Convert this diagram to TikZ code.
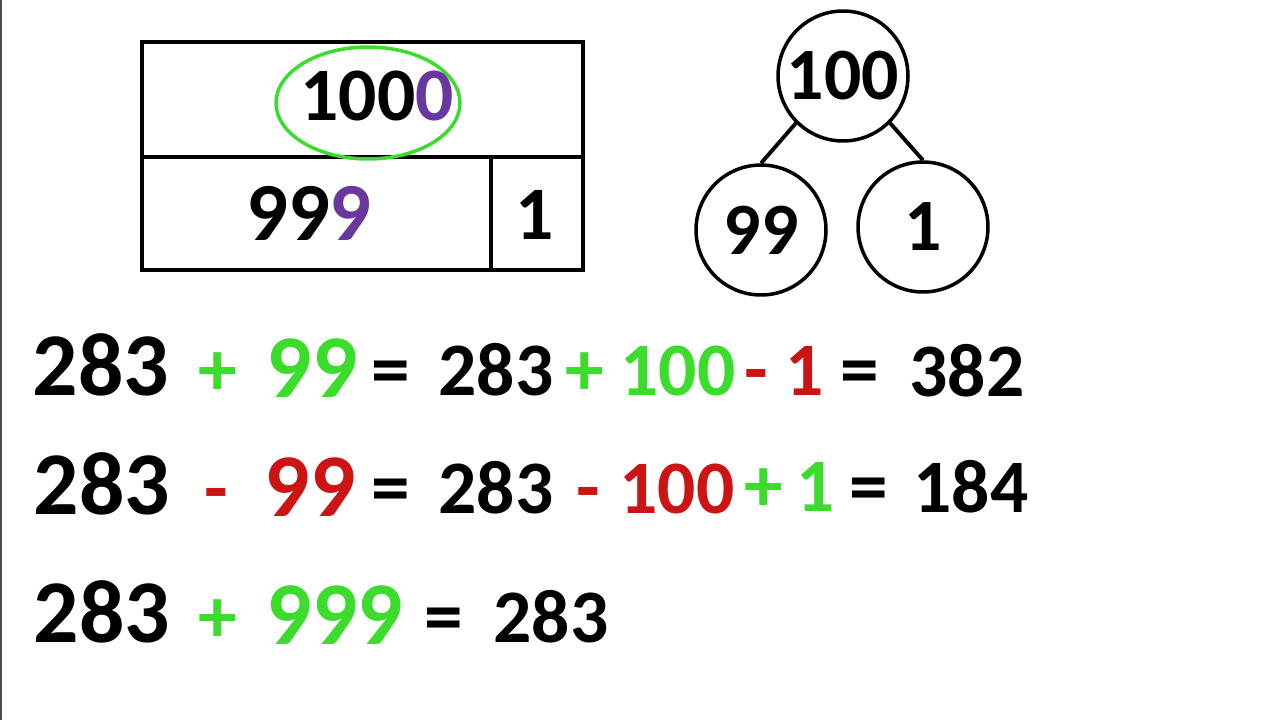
\documentclass[tikz,border=0pt]{standalone}
\usepackage{fontspec}
\setmainfont{Carlito}
\usepackage{xcolor}
\usetikzlibrary{calc}

\definecolor{plusgreen}{RGB}{60,220,45}
\definecolor{minusred}{RGB}{205,20,20}
\definecolor{digitpurple}{RGB}{105,55,160}

\begin{document}
\begin{tikzpicture}[x=0.02cm, y=-0.02cm,
    big/.style={anchor=base, inner sep=0pt, font=\fontsize{51}{60}\selectfont\bfseries},
    mid/.style={anchor=base, inner sep=0pt, font=\fontsize{43}{50}\selectfont\bfseries},
    op/.style={anchor=base, inner sep=0pt, font=\fontsize{44}{48}\selectfont\bfseries},
    ring/.style={
      circle,
      draw,
      line width=2pt,
      minimum size=2.6cm,
      inner sep=0pt,
      font=\fontsize{42}{50}\selectfont\bfseries
    },
    line width=2.2pt]
  \useasboundingbox (0,0) rectangle (1280,720);
  \draw[black!70, line width=1pt] (1,0) -- (1,720);

  % bar model
  \draw (142,42) rectangle (583,270);
  \draw (142,157) -- (583,157);
  \draw (491,157) -- (491,270);
  \draw[plusgreen, line width=2pt] (368,103) ellipse [x radius=1.84cm, y radius=1.12cm];
  \node[mid] (whole) at (377,120) {100\textcolor{digitpurple}{0}};
  \node[mid, font=\fontsize{47}{54}\selectfont\bfseries] (part) at (309,240) {99\textcolor{digitpurple}{9}};
  \node[mid] (unit) at (535,239) {1};

  % part-whole circles
  \node[ring] (top) at (843,76) {100};
  \node[ring] (left) at (761,230) {99};
  \node[ring] (right) at (923,227) {1};
  \draw (top.225) -- (left.north);
  \draw (top.-45) -- (right.north);

  % 283 + 99
  \node[big] (a1) at (101,395) {283};
  \node[op, text=plusgreen] (a2) at (218,395) {+};
  \node[big, text=plusgreen] (a3) at (312,397) {99};
  \node[op] (a4) at (391,395) {=};
  \node[mid] (a5) at (496,395) {283};
  \node[op, text=plusgreen] (a6) at (585,395) {+};
  \node[mid, text=plusgreen] (a7) at (678,395) {100};
  \node[op, text=minusred] (a8) at (756,395) {-};
  \node[mid, text=minusred] (a9) at (805,395) {1};
  \node[op] (a10) at (860,395) {=};
  \node[mid] (a11) at (967,396) {382};

  % 283 - 99
  \node[big] (b1) at (102,514) {283};
  \node[op, text=minusred] (b2) at (216,514) {-};
  \node[big, text=minusred] (b3) at (310,516) {99};
  \node[op] (b4) at (391,513) {=};
  \node[mid] (b5) at (496,513) {283};
  \node[op, text=minusred] (b6) at (588,513) {-};
  \node[mid, text=minusred] (b7) at (677,513) {100};
  \node[op, text=plusgreen] (b8) at (764,511) {+};
  \node[mid, text=plusgreen] (b9) at (816,511) {1};
  \node[op] (b10) at (869,512) {=};
  \node[mid] (b11) at (971,512) {184};

  % 283 + 999
  \node[big] (c1) at (102,642) {283};
  \node[op, text=plusgreen] (c2) at (218,642) {+};
  \node[big, text=plusgreen] (c3) at (335,644) {999};
  \node[op] (c4) at (444,642) {=};
  \node[mid] (c5) at (551,642) {283};
\end{tikzpicture}
\end{document}
